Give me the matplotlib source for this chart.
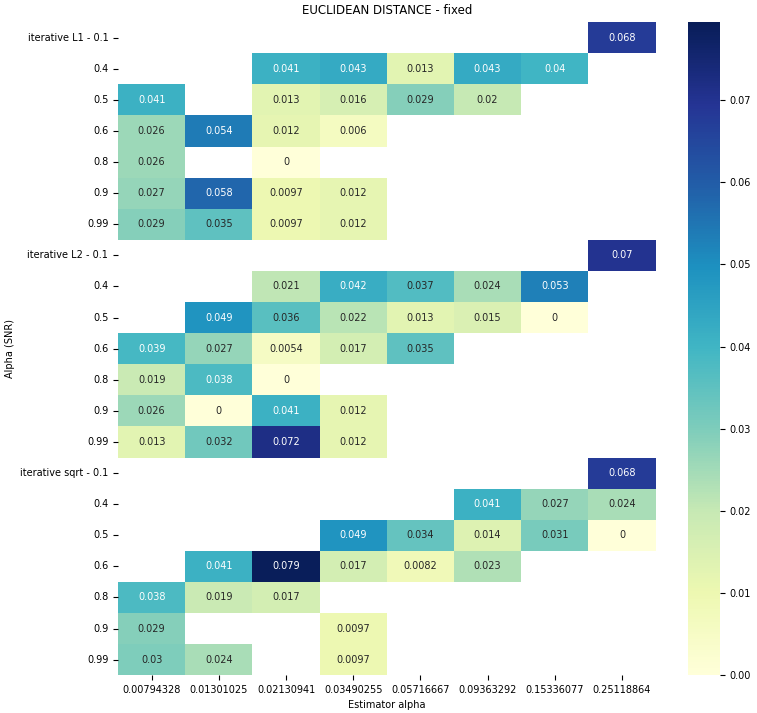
import numpy as np
import pandas as pd
import matplotlib
matplotlib.use("Agg")
import matplotlib.pyplot as plt
import seaborn as sns

n = np.nan
estimator_alpha = ["0.00794328", "0.01301025", "0.02130941", "0.03490255",
                   "0.05716667", "0.09363292", "0.15336077", "0.25118864"]
methods = ["iterative L1", "iterative L2", "iterative sqrt"]
snr = ["0.1", "0.4", "0.5", "0.6", "0.8", "0.9", "0.99"]

l1 = [
    [n, n, n, n, n, n, n, 0.068],
    [n, n, 0.041, 0.043, 0.013, 0.043, 0.04, n],
    [0.041, n, 0.013, 0.016, 0.029, 0.02, n, n],
    [0.026, 0.054, 0.012, 0.006, n, n, n, n],
    [0.026, n, 0.0, n, n, n, n, n],
    [0.027, 0.058, 0.0097, 0.012, n, n, n, n],
    [0.029, 0.035, 0.0097, 0.012, n, n, n, n],
]
l2 = [
    [n, n, n, n, n, n, n, 0.07],
    [n, n, 0.021, 0.042, 0.037, 0.024, 0.053, n],
    [n, 0.049, 0.036, 0.022, 0.013, 0.015, 0.0, n],
    [0.039, 0.027, 0.0054, 0.017, 0.035, n, n, n],
    [0.019, 0.038, 0.0, n, n, n, n, n],
    [0.026, 0.0, 0.041, 0.012, n, n, n, n],
    [0.013, 0.032, 0.072, 0.012, n, n, n, n],
]
sqrt = [
    [n, n, n, n, n, n, n, 0.068],
    [n, n, n, n, n, 0.041, 0.027, 0.024],
    [n, n, n, 0.049, 0.034, 0.014, 0.031, 0.0],
    [n, 0.041, 0.079, 0.017, 0.0082, 0.023, n, n],
    [0.038, 0.019, 0.017, n, n, n, n, n],
    [0.029, n, n, 0.0097, n, n, n, n],
    [0.03, 0.024, n, 0.0097, n, n, n, n],
]

ylabels = []
for m in methods:
    for i, s in enumerate(snr):
        ylabels.append(f"{m} - {s}" if i == 0 else s)

df = pd.DataFrame(l1 + l2 + sqrt, index=ylabels, columns=estimator_alpha)

fig = plt.figure(figsize=(7.57, 7.13), dpi=100)
ax = fig.add_axes([0.156, 0.053, 0.71, 0.916])
cax = fig.add_axes([0.909, 0.053, 0.042, 0.916])
sns.heatmap(df, annot=True, cmap="YlGnBu", vmin=0, vmax=0.0795, ax=ax, cbar_ax=cax,
            annot_kws={"fontsize": 7})
ax.set_title("EUCLIDEAN DISTANCE - fixed", fontsize=8.5)
ax.set_xlabel("Estimator alpha", fontsize=7)
ax.set_ylabel("Alpha (SNR)", fontsize=7)
ax.tick_params(labelsize=7)
plt.setp(ax.get_yticklabels(), rotation=0)
plt.setp(ax.get_xticklabels(), rotation=0)
cax.tick_params(labelsize=7)
fig.savefig("out.png", dpi=100)
